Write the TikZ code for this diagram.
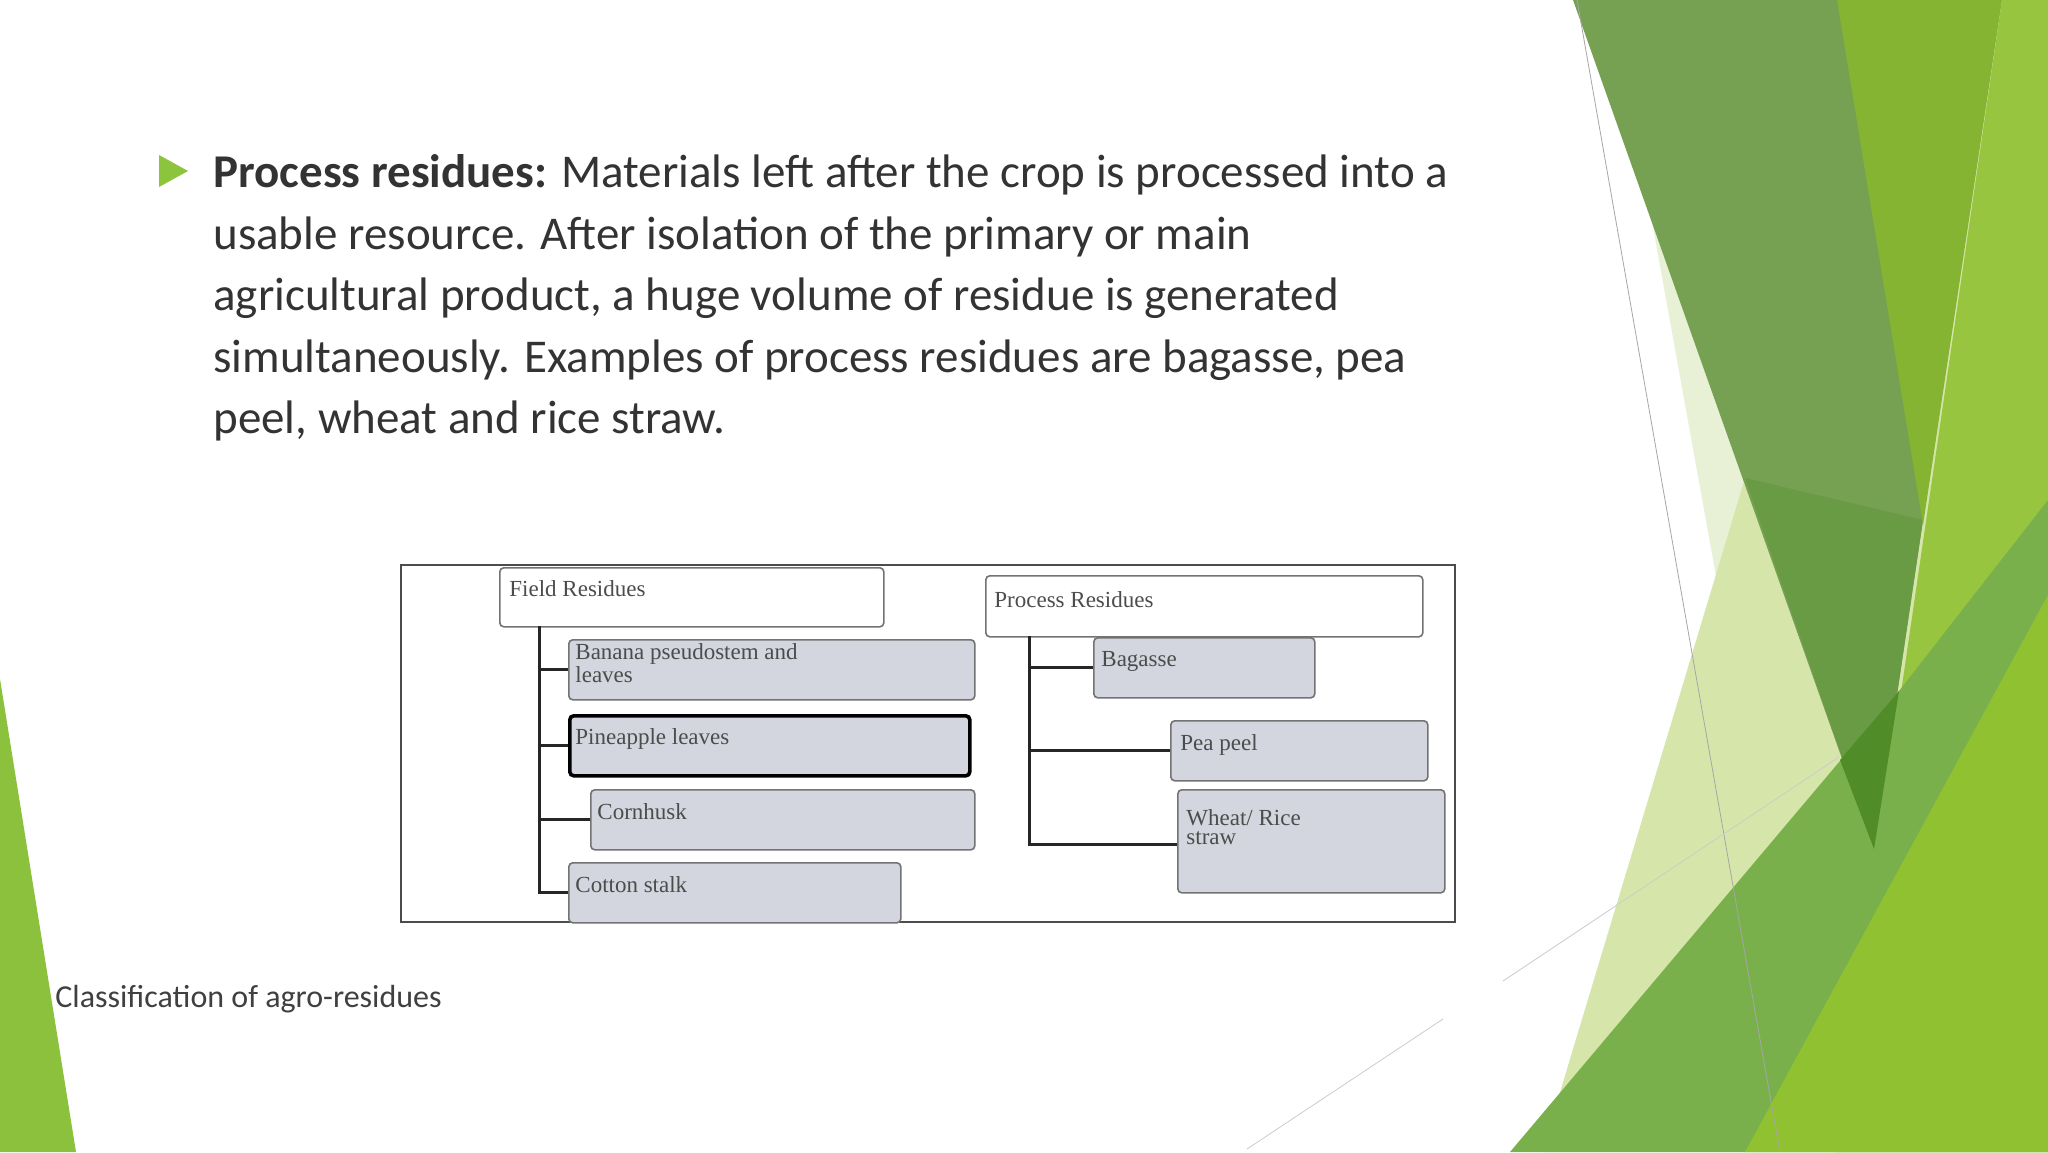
\documentclass[tikz,border=0pt]{standalone}
\usepackage{fontspec}
\setmainfont{Carlito}
\newfontfamily\figfont{Liberation Serif}
\begin{document}
\begin{tikzpicture}[x=0.5pt,y=-0.5pt,
  box/.style={draw=black!55, line width=0.8pt, fill=boxfill, rounded corners=2pt, anchor=north west, inner sep=0},
  wbox/.style={box, fill=white},
  lbl/.style={anchor=north west, font=\figfont\fontsize{11.5}{9.5}\selectfont, text=black!70, align=left, inner sep=0},
  tree/.style={line width=1.5pt, black!85},
  body/.style={anchor=base west, inner sep=0, font=\fontsize{23.5}{28}\selectfont, text=black!80}]
\definecolor{boxfill}{HTML}{D3D6DE}
\useasboundingbox (0,0) rectangle (2048,1152);
\fill[white] (0,0) rectangle (2048,1152);
% decorative shapes
\fill[color={rgb,255:red,232;green,240;blue,213}] (1612,0) -- (2048,0) -- (2048,1152) -- (1820,1152) -- cycle;
\fill[color={rgb,255:red,214;green,230;blue,170}] (1542,1152) -- (1889,0) -- (2048,0) -- (2048,1152) -- cycle;
\fill[color={rgb,255:red,118;green,160;blue,82}] (1573,0) -- (1845,0) -- (1923,520) -- (1874,849) -- cycle;
\fill[color={rgb,255:red,105;green,154;blue,68}] (1745,478) -- (1923,520) -- (1874,849) -- cycle;
\fill[color={rgb,255:red,132;green,180;blue,49}] (1837,0) -- (2002,0) -- (1923,525) -- cycle;
\fill[color={rgb,255:red,152;green,197;blue,63}] (2002,0) -- (2048,0) -- (2048,1152) -- (1834,1152) -- cycle;
\fill[color={rgb,255:red,122;green,176;blue,76}] (1510,1152) -- (1899,691) -- (2048,500) -- (2048,1152) -- cycle;
\fill[color={rgb,255:red,143;green,193;blue,48}] (1745,1152) -- (2048,595) -- (2048,1152) -- cycle;
\fill[color={rgb,255:red,80;green,140;blue,40}] (1840,760) -- (1899,691) -- (1874,849) -- cycle;
\draw[black!35, line width=0.4pt] (1577,0) -- (1771,1102) -- (1780,1152);
\draw[black!20, line width=0.4pt] (1503,981) -- (1839,757);
\draw[black!20, line width=0.4pt] (1247,1149) -- (1443,1019);
\fill[color={rgb,255:red,139;green,193;blue,60}] (0,679) -- (76,1152) -- (0,1152) -- cycle;
% bullet text
\fill[color={rgb,255:red,140;green,196;blue,62}] (159,155) -- (188,171) -- (159,187) -- cycle;
\node[body] (l1) at (213,187) {\textbf{Process residues:} Materials left after the crop is processed into a};
\node[body] (l2) at (213,249) {usable resource. After isolation of the primary or main};
\node[body] (l3) at (213,310) {agricultural product, a huge volume of residue is generated};
\node[body] (l4) at (213,372) {simultaneously. Examples of process residues are bagasse, pea};
\node[body] (l5) at (213,433) {peel, wheat and rice straw.};
\node[anchor=base west, inner sep=0, font=\fontsize{16}{18}\selectfont, text=black!75] (cap) at (55,1007) {Classification of agro-residues};
% figure
\draw[black!70, line width=1pt] (401,565) rectangle (1455,922);
\node[wbox, minimum width=192pt, minimum height=29.5pt] (field) at (499,567) {};
\node[wbox, minimum width=218.5pt, minimum height=30.5pt] (proc) at (985,575) {};
\node[box, minimum width=203pt, minimum height=30pt] (banana) at (568,639) {};
\node[box, draw=black, line width=1.8pt, minimum width=200pt, minimum height=30pt] (pine) at (568,714) {};
\node[box, minimum width=192pt, minimum height=30pt] (corn) at (590,789) {};
\node[box, minimum width=166pt, minimum height=30pt] (cotton) at (568,862) {};
\node[box, minimum width=110.5pt, minimum height=30pt] (bag) at (1093,637) {};
\node[box, minimum width=128.5pt, minimum height=30pt] (pea) at (1170,720) {};
\node[box, minimum width=133.5pt, minimum height=51.5pt] (wheat) at (1177,789) {};
\node[lbl] (tf) at ([shift={(10,13)}]field.north west) {Field Residues};
\node[lbl] (tp) at ([shift={(9,16)}]proc.north west) {Process Residues};
\node[lbl] (tb) at ([shift={(7,4)}]banana.north west) {Banana pseudostem and\\leaves};
\node[lbl] (tpi) at ([shift={(7,14)}]pine.north west) {Pineapple leaves};
\node[lbl] (tc) at ([shift={(7,14)}]corn.north west) {Cornhusk};
\node[lbl] (tco) at ([shift={(7,14)}]cotton.north west) {Cotton stalk};
\node[lbl] (tba) at ([shift={(8,14)}]bag.north west) {Bagasse};
\node[lbl] (tpe) at ([shift={(10,14)}]pea.north west) {Pea peel};
\node[lbl] (tw) at ([shift={(9,20)}]wheat.north west) {Wheat/ Rice\\straw};
\coordinate (ft) at (539,626);
\coordinate (pt) at (1029,636);
\draw[tree] (ft) |- (cotton.west);
\draw[tree] (ft |- banana.west) -- (banana.west);
\draw[tree] (ft |- pine.west) -- (pine.west);
\draw[tree] (ft |- corn.west) -- (corn.west);
\draw[tree] (pt) |- ([yshift=-1.5]wheat.west);
\draw[tree] (pt |- bag.west) -- (bag.west);
\draw[tree] (pt |- pea.west) -- (pea.west);
\end{tikzpicture}
\end{document}
